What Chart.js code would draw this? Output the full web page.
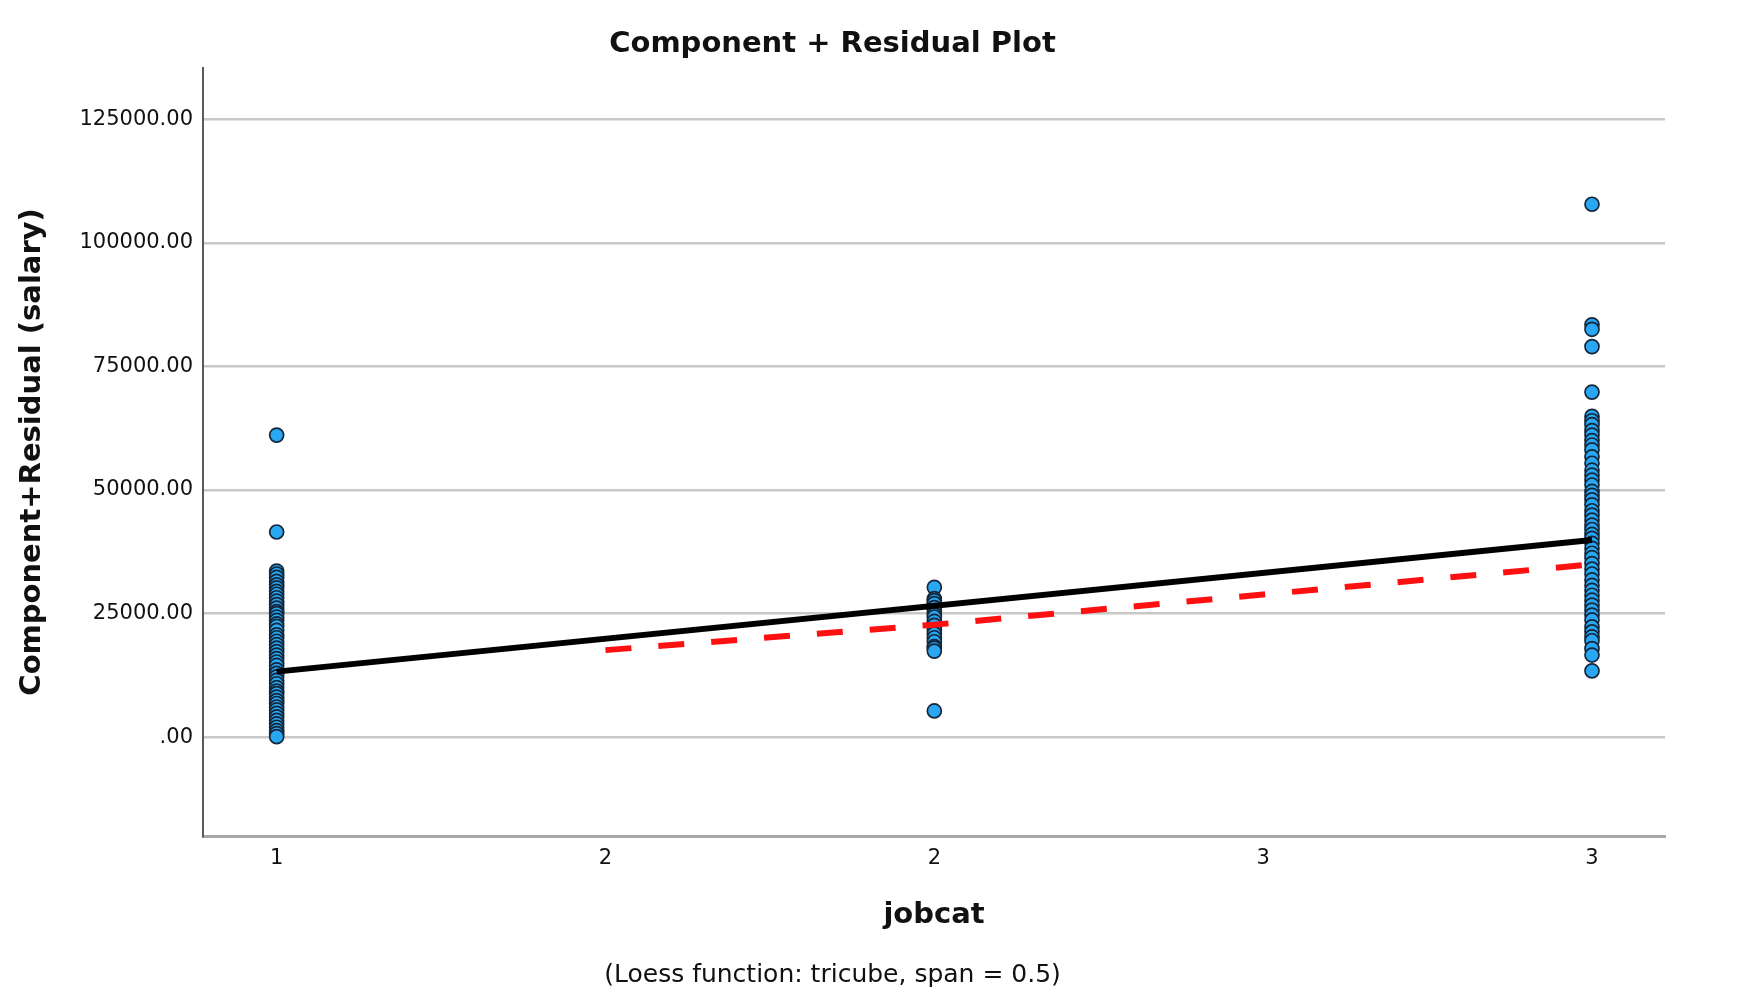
<!DOCTYPE html>
<html>
<head>
<meta charset="utf-8">
<title>Component + Residual Plot</title>
<script src="https://cdn.jsdelivr.net/npm/chart.js@4.4.1/dist/chart.umd.min.js"></script>
<style>
  html, body { margin: 0; padding: 0; background: #fff; }
  #wrap { width: 1750px; height: 1008px; position: relative; }
</style>
</head>
<body>
<div id="wrap"><canvas id="crPlot"></canvas></div>
<script>
// Values (component + residual of salary per job category)
const jobcatCodes = [1, 2, 3];
const jobcat1Values = [61100, 41500, 33600, 33000, 32300, 31500, 30800, 30200, 29500, 28900, 28200, 27500,
  26800, 26100, 25400, 25000, 24300, 23600, 22900, 22400, 21600, 20700, 20100, 19400, 18700, 18000, 17300,
  16600, 15900, 15200, 14500, 13600, 12900, 12200, 11500, 10800, 10000, 9300, 8800, 8100, 7400, 6800, 6100,
  5500, 4800, 4100, 3400, 2700, 2000, 1300, 700, 100];
const jobcat2Values = [30300, 28000, 27600, 27000, 26200, 25600, 24800, 24300, 23400, 22600, 21700, 20900,
  20100, 19300, 18300, 18000, 17400, 5300];
const jobcat3Values = [107800, 83400, 82500, 79000, 69800, 64900, 64000, 63200, 62000, 61100, 60000, 59100,
  58100, 56700, 55400, 54000, 53000, 52000, 51000, 49700, 48900, 48000, 47000, 45800, 44900, 43900, 42900,
  42000, 41000, 40200, 39200, 38200, 37200, 36300, 35100, 34000, 33000, 31800, 30700, 29700, 28700, 27700,
  26700, 25700, 24700, 23700, 22300, 21300, 20300, 19500, 17900, 16600, 13400];

// Linear fit (solid black) and loess fit (red dashed)
const linearFitX = [1, 3];
const linearFitY = [13250, 39900];
const loessX = [1.5, 2, 2.5, 3];
const loessY = [17600, 22750, 28850, 34950];

// Axis ticks as shown in the picture
const xTickValues = [1, 1.5, 2, 2.5, 3];
const xTickLabels = ['1', '2', '2', '3', '3'];
const yTickValues = [0, 25000, 50000, 75000, 100000, 125000];
const yTickLabels = ['.00', '25000.00', '50000.00', '75000.00', '100000.00', '125000.00'];

const FONT = 'DejaVu Sans';

function toPoints(xs, ys) {
  return xs.map((x, i) => ({ x: x, y: ys[i] }));
}

const residualPoints = [];
[jobcat1Values, jobcat2Values, jobcat3Values].forEach((vals, i) => {
  vals.forEach(v => residualPoints.push({ x: jobcatCodes[i], y: v }));
});

const ctx = document.getElementById('crPlot').getContext('2d');

const crChart = new Chart(ctx, {
  type: 'scatter',
  data: {
    datasets: [
      {
        label: 'Linear fit',
        type: 'line',
        data: toPoints(linearFitX, linearFitY),
        borderColor: '#000000',
        borderWidth: 6,
        pointRadius: 0,
        fill: false,
        order: 0
      },
      {
        label: 'Loess',
        type: 'line',
        data: toPoints(loessX, loessY),
        borderColor: '#ff1010',
        borderWidth: 6,
        borderDash: [26, 27],
        pointRadius: 0,
        fill: false,
        order: 0
      },
      {
        label: 'Component+Residual',
        data: residualPoints,
        backgroundColor: '#2aa7f3',
        borderColor: '#13263a',
        borderWidth: 1.7,
        pointRadius: 7,
        order: 1
      }
    ]
  },
  options: {
    responsive: true,
    maintainAspectRatio: false,
    animation: false,
    layout: {
      padding: { left: 0, right: 85, top: 0, bottom: 0 }
    },
    scales: {
      x: {
        type: 'linear',
        min: 0.888,
        max: 3.111,
        afterBuildTicks: function(scale) {
          scale.ticks = xTickValues.map(v => ({ value: v }));
        },
        afterFit: function(scale) {
          scale.height = 116;
        },
        ticks: {
          padding: 10,
          color: '#111',
          font: { family: FONT, size: 21 },
          callback: function(value) {
            return xTickLabels[xTickValues.indexOf(value)];
          }
        },
        grid: { display: false, drawTicks: false },
        border: { display: true, color: '#a9a9a9', width: 3 },
        title: {
          display: true,
          text: 'jobcat',
          color: '#111',
          font: { family: FONT, size: 29, weight: 'bold' },
          padding: { top: 0, bottom: 19 }
        }
      },
      y: {
        type: 'linear',
        min: -20000,
        max: 135400,
        afterBuildTicks: function(scale) {
          scale.ticks = yTickValues.map(v => ({ value: v }));
        },
        afterFit: function(scale) {
          scale.width = 203;
        },
        ticks: {
          padding: 10,
          color: '#111',
          font: { family: FONT, size: 21 },
          callback: function(value) {
            return yTickLabels[yTickValues.indexOf(value)];
          }
        },
        grid: { color: '#c8c8c8', lineWidth: 2.5, drawTicks: false },
        border: { display: true, color: '#5a5a5a', width: 2 },
        title: {
          display: true,
          text: 'Component+Residual (salary)',
          color: '#111',
          font: { family: FONT, size: 29, weight: 'bold' },
          padding: { top: 15, bottom: 0 }
        }
      }
    },
    plugins: {
      legend: { display: false },
      tooltip: { enabled: false },
      title: {
        display: true,
        text: 'Component + Residual Plot',
        color: '#111',
        font: { family: FONT, size: 29, weight: 'bold' },
        padding: { top: 27, bottom: 6 }
      },
      subtitle: {
        display: true,
        position: 'bottom',
        text: '(Loess function: tricube, span = 0.5)',
        color: '#111',
        font: { family: FONT, size: 25, weight: 'normal' },
        padding: { top: 8, bottom: 18 }
      }
    }
  }
});
</script>
</body>
</html>
